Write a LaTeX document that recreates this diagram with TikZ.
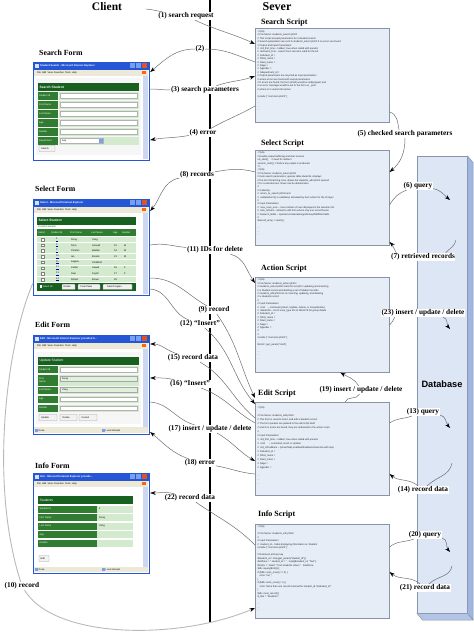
\documentclass[tikz,border=0pt]{standalone}
\usepackage{fontspec}
\setmainfont{Liberation Serif}
\setsansfont{Liberation Sans}
\usetikzlibrary{arrows.meta}

\definecolor{winblue}{RGB}{36,86,214}
\definecolor{btnblue}{RGB}{120,160,240}
\definecolor{closered}{RGB}{222,84,40}
\definecolor{xpbeige}{RGB}{236,233,216}
\definecolor{scrollblue}{RGB}{205,216,240}
\definecolor{darkgreen}{RGB}{24,96,32}
\definecolor{midgreen}{RGB}{48,124,48}
\definecolor{palegreen}{RGB}{212,234,206}
\definecolor{scriptfill}{RGB}{231,237,247}
\definecolor{scriptline}{RGB}{138,148,168}
\definecolor{dbfront}{RGB}{221,230,245}
\definecolor{dbside}{RGB}{160,182,225}
\definecolor{linegray}{RGB}{110,110,110}

\begin{document}
\begin{tikzpicture}[x=1pt,y=-1pt,
  >={Stealth[length=5.5pt,width=3.8pt,color=black]},
  conn/.style={draw=linegray,line width=0.5pt},
  conn10/.style={draw=gray!55,line width=0.9pt},
  lab/.style={fill=white,inner sep=0.6pt,font=\bfseries\fontsize{7.3}{8}\selectfont},
  stitle/.style={anchor=west,inner sep=0pt,font=\bfseries\fontsize{8}{9}\selectfont},
  script/.style={draw=scriptline,fill=scriptfill,line width=0.6pt,anchor=north west,minimum width=134,inner sep=0pt},
  code/.style={anchor=north west,inner sep=0pt,align=left,text=black!85,font=\sffamily\fontsize{2.45}{3.4}\selectfont},
  win/.style={draw=winblue,fill=white,line width=1.2pt,anchor=north west,minimum width=116,inner sep=0pt},
  wtitle/.style={anchor=west,inner sep=0pt,text=white,font=\sffamily\bfseries\fontsize{2.6}{3}\selectfont},
  wtext/.style={anchor=west,inner sep=0pt,font=\sffamily\fontsize{2.4}{2.8}\selectfont},
  gtext/.style={wtext,text=white},
  btn/.style={draw=gray!70,fill=gray!10,line width=0.3pt,rounded corners=0.6pt}
]
\useasboundingbox (0,0) rectangle (474,632);
\clip (0,0) rectangle (474,632);

% client / server
\node[anchor=base,font=\bfseries\fontsize{11.5}{12}\selectfont] (client) at (107,10.5) {Client};
\node[anchor=base,font=\bfseries\fontsize{12}{13}\selectfont] (sever) at (277,10.5) {Sever};
\draw[line width=1.3pt] (210,0) -- (210,622);

% forms
\node[anchor=west,inner sep=0pt,font=\bfseries\fontsize{7.8}{8}\selectfont] at (39,53) {Search Form};
\node[anchor=west,inner sep=0pt,font=\bfseries\fontsize{7.8}{8}\selectfont] at (35,189) {Select Form};
\node[anchor=west,inner sep=0pt,font=\bfseries\fontsize{7.8}{8}\selectfont] at (35,325) {Edit Form};
\node[anchor=west,inner sep=0pt,font=\bfseries\fontsize{7.8}{8}\selectfont] at (35,466) {Info Form};

\node[win,minimum height=98] (sf) at (33,62) {};
\node[win,minimum height=96] (slf) at (33,199) {};
\node[win,minimum height=99] (ef) at (33,335) {};
\node[win,minimum height=100] (iff) at (33,473) {};

\foreach \tp/\bt/\ti in {62/160/Student Search - Microsoft Internet Explorer,199/295/Select - Microsoft Internet Explorer,335/434/Edit - Microsoft Internet Explorer provided b\dots,473/573/Info - Microsoft Internet Explorer provide\dots}{
  \fill[winblue] (33,\tp) rectangle (149,\tp+7.5);
  \fill[white!70!btnblue] (35,\tp+2) rectangle (38.5,\tp+5.5);
  \node[wtitle] at (40,\tp+3.8) {\ti};
  \fill[btnblue] (129.5,\tp+1.3) rectangle (134.5,\tp+6.3);
  \fill[btnblue] (135.5,\tp+1.3) rectangle (140.5,\tp+6.3);
  \fill[closered] (141.5,\tp+1.3) rectangle (147.2,\tp+6.3);
  \fill[xpbeige] (33.6,\tp+7.5) rectangle (148.4,\tp+13.5);
  \node[wtext] at (37,\tp+10.5) {File\enspace Edit\enspace View\enspace Favorites\enspace Tools\enspace Help};
  \fill[orange!80!red] (141.5,\tp+8.6) rectangle (145.5,\tp+12.4);
  \fill[scrollblue] (142.5,\tp+13.5) rectangle (148.4,\bt-0.6);
}

% search form
\fill[gray!7] (35.5,78) rectangle (141,155);
\fill[darkgreen] (38,83) rectangle (139,91);
\node[gtext,font=\sffamily\bfseries\fontsize{3.3}{3.6}\selectfont] at (39.5,87) {Search Student};
\foreach \y/\lb in {92/Student Id,101/First Name,110/Last Name,119/Age,128/Gender,137/Department}{
  \fill[midgreen] (38,\y) rectangle (58,\y+7.5);
  \fill[palegreen] (58.5,\y) rectangle (139,\y+7.5);
  \node[gtext] at (39,\y+3.8) {\lb};
}
\foreach \y in {92,101,110,119,128}
  \draw[gray!60,fill=white,line width=0.3pt] (60,\y+1.2) rectangle (137.5,\y+6.3);
\draw[gray!60,fill=white,line width=0.3pt] (60,138.2) rectangle (103,143.3);
\node[wtext] at (62,140.8) {Any};
\fill[btnblue] (99,138.6) rectangle (102.6,142.9);
\draw[btn] (39,145.5) rectangle (55,151.5);
\node[wtext] at (41,148.5) {Search};

% select form
\fill[darkgreen] (37,217) rectangle (136,224.5);
\node[gtext,font=\sffamily\bfseries\fontsize{3.3}{3.6}\selectfont] at (38.5,220.8) {Select Student};
\node[wtext,text=darkgreen] at (38,227) {Found 8 Student};
\fill[midgreen] (37,229) rectangle (136,236);
\foreach \x/\hd in {38/Select,51/Student Id,70/First Name,91/Last Name,113/Age,122/Gender}
  \node[gtext] at (\x,232.5) {\hd};
\foreach \ry/\rid/\rf/\rl/\ra/\rg in {237/1/Dong/Yang/{}/{},242.7/2/Dora/Sunnall/22/M,248.4/3/Charles/Beattie/34/M,254.1/10/Ian/Brooks/21/M,259.8/11/Angela/Chatfield/{}/{},265.5/12/Caitlin/Sewell/25/F,271.2/13/Sian/Cupitt/27/F,276.9/14/Robert/Brown/35/{}}{
  \fill[palegreen] (37,\ry) rectangle (136,\ry+5);
  \draw[gray,fill=white,line width=0.25pt] (41.5,\ry+1.2) rectangle (44,\ry+3.8);
  \node[wtext,text=blue!60!black] at (56,\ry+2.5) {\underline{\rid}};
  \node[wtext] at (71,\ry+2.5) {\rf};
  \node[wtext] at (92,\ry+2.5) {\rl};
  \node[wtext] at (114,\ry+2.5) {\ra};
  \node[wtext] at (124,\ry+2.5) {\rg};
}
\fill[darkgreen] (37,283) rectangle (136,290.5);
\fill[white] (39.5,285.3) rectangle (41.8,287.8);
\node[gtext] at (42.5,286.8) {Select all};
\draw[btn] (62,284.2) rectangle (75,289.4);
\node[wtext] at (63.5,286.8) {Delete};
\draw[btn] (78,284.2) rectangle (100,289.4);
\node[wtext] at (80.5,286.8) {Insert New};
\draw[btn] (103,284.2) rectangle (132,289.4);
\node[wtext] at (107,286.8) {Search Again};

% edit form
\fill[gray!7] (35.5,352) rectangle (141,424);
\fill[darkgreen] (38,357) rectangle (139,364.5);
\node[gtext,font=\sffamily\fontsize{3.4}{3.6}\selectfont] at (39.5,360.8) {Update Student};
\foreach \y/\h in {366/7,374.5/11,386.5/7,395.5/7,404.5/7}{
  \fill[midgreen] (38,\y) rectangle (58,\y+\h);
  \fill[palegreen] (58.5,\y) rectangle (139,\y+\h);
}
\node[gtext] at (39,369.5) {Student Id};
\node[gtext,align=left] at (39,380) {First\\Name};
\node[gtext] at (39,390) {Last Name};
\node[gtext] at (39,399) {Age};
\node[gtext] at (39,408) {Gender};
\foreach \y in {367.2,396.7,405.7}
  \draw[gray!60,fill=white,line width=0.3pt] (60,\y) rectangle (137.5,\y+4.8);
\draw[gray!70,fill=palegreen!70!white,line width=0.3pt] (60,376) rectangle (137.5,381.5);
\node[wtext] at (62,378.8) {Dong};
\draw[gray!70,fill=palegreen!70!white,line width=0.3pt] (60,387.5) rectangle (137.5,392.5);
\node[wtext] at (62,390) {Yang};
\draw[btn] (39,414.5) rectangle (57,420.5);
\node[wtext] at (41,417.5) {Update};
\draw[btn] (60,414.5) rectangle (77,420.5);
\node[wtext] at (62.5,417.5) {Delete};
\draw[btn] (79,414.5) rectangle (97,420.5);
\node[wtext] at (81.5,417.5) {Cancel};
\fill[xpbeige] (33.6,427) rectangle (148.4,433.4);
\fill[btnblue] (35,428.5) rectangle (37.5,431.5);
\node[wtext] at (38.5,430.2) {Done};
\fill[btnblue] (102,428.5) rectangle (104.5,431.5);
\node[wtext] at (105.5,430.2) {Local intranet};

% info form
\fill[darkgreen] (38,496) rectangle (133,503.5);
\node[gtext,font=\sffamily\fontsize{3.4}{3.6}\selectfont] at (39.5,499.8) {Students};
\foreach \y/\lb/\v in {505.5/Student Id/1,514/First Name/Dong,522.5/Last Name/Yang,531/Age/{},539.5/Gender/{}}{
  \fill[midgreen] (38,\y) rectangle (96.5,\y+7);
  \fill[palegreen] (97,\y) rectangle (133,\y+7);
  \node[gtext] at (39.5,\y+3.5) {\lb};
  \node[wtext] at (99,\y+3.5) {\v};
}
\draw[btn] (39,555.5) rectangle (49,561.5);
\node[wtext] at (40.5,558.5) {Edit};
\fill[xpbeige] (33.6,566.5) rectangle (148.4,572.4);
\fill[btnblue] (35,568) rectangle (37.5,571);
\node[wtext] at (38.5,569.5) {Done};
\fill[btnblue] (102,568) rectangle (104.5,571);
\node[wtext] at (105.5,569.5) {Local intranet};

% scripts
\node[stitle] at (261,22.5) {Search Script};
\node[stitle] at (261,144) {Select Script};
\node[stitle] at (261,269) {Action Script};
\node[stitle] at (258,394) {Edit Script};
\node[stitle] at (258,515) {Info Script};

\node[script,minimum height=94] (ss) at (255,28) {};
\node[script,minimum height=95] (sel) at (255,150) {};
\node[script,minimum height=95] (act) at (255,277) {};
\node[script,minimum height=93] (eds) at (255,402) {};
\node[script,minimum height=94] (inf) at (255,524) {};

\node[code] at (257.5,30.5) {<?php\\
// File Name: students\_search.phtml\\
// This script accepts parameters for a Student search\\
// Search parameters are sent to students\_select.phtml if no errors are found\\
// Output and Input Parameters:\\
//\ \ std\_first\_time -- hidden; true when called with params\\
//\ \ lastname\_first -- search form record is valid for the list\\
//\ \ \$student\_id =\\
//\ \ \$first\_name =\\
//\ \ \$last\_name =\\
//\ \ \$age =\\
//\ \ \$gender =\\
//\ \ \$department\_id =\\
// Output parameters are recycled as input parameters\\
// where errors are found with output parameters\\
// If errors are found, the form (itself) would be redisplayed, and\\
// an error message would be set to the form as \_print\\
// where in in search-lib.names\\
\mbox{}\\
include ("./common.phtml");\\
\mbox{}\\
...\\
...\\
...};

\node[code] at (257.5,152) {<?php\\
// Enable output buffering and start session\\
ob\_start();\ \ \ \ // need for redirect\\
session\_start(); // before any output is produced\\
?>\\
<?php\\
// File Name: students\_select.phtml\\
// Gets search parameters, queries table students, displays\\
// the list of matching rows, allows the students\_edit.phtml opened\\
// for a selected row. Rows can be deleted also.\\
//\\
// Called by:\\
//\ \ return\_to\_search.phtml and\\
//\ \ validateForm() in validate.js activated by form action for the ID layer\\
//\\
// Input Parameters:\\
//\ \ max\_rows\_ever -- max number of rows displayed in the selection list\\
//\ \ sids\_refined -- refined to edit from where only one record found\\
//\ \ \$search\_fields -- sparse/concatenated get/lookup/flat/filter fields\\
//\\
\$record\_array = select();\\
\mbox{}\\
...\\
...\\
...};

\node[code] at (257.5,279) {<?php\\
// File Name: students\_action.phtml\\
// students\_select.phtml calls this script for updating and inserting\\
// a Student record and deleting a set of Student records\\
// students\_edit.phtml do on inserting, updating, and deleting\\
// a students record\\
//\\
// Input Parameters:\\
//\ \ cmd\ \ \ \ -- command (Insert, Update, Delete, or GroupDelete)\\
//\ \ deleteIDs -- list of ones\_type IDs to DELETE for group delete\\
//\ \ \$student\_id =\\
//\ \ \$first\_name =\\
//\ \ \$last\_name =\\
//\ \ \$age =\\
//\ \ \$gender =\\
//\\
//\\
include ("./common.phtml");\\
\mbox{}\\
\$cmd = get\_param("cmd");\\
\mbox{}\\
...\\
...\\
...};

\node[code,font=\sffamily\fontsize{2.45}{4}\selectfont] at (257.5,404) {\mbox{}\\
<?php\\
\mbox{}\\
// File Name: students\_edit.phtml\\
// This form is used to insert, and edit a Student record.\\
// The form params are passed to the edit script itself\\
// and if no errors are found, they are redirected to the action script\\
//\\
// Input Parameters:\\
//\ \ std\_first\_time -- hidden; true when called with params\\
//\ \ cmd\ \ \ \ \ \ -- command, Insert or Update\\
//\ \ std\_isPostBack -- (show/hide) enabled/disabled interaction with step\\
//\ \ \$student\_id =\\
//\ \ \$first\_name =\\
//\ \ \$last\_name =\\
//\ \ \$age =\\
//\ \ \$gender =\\
\mbox{}\\
...\\
...\\
...};

\node[code,font=\sffamily\fontsize{2.45}{3.5}\selectfont] at (257.5,526) {<?php\\
\mbox{}\\
// File Name: students\_info.phtml\\
//\\
// Input Parameters:\\
//\ \ student\_id -- hides displaying information on Student\\
include ("./common.phtml");\\
\mbox{}\\
// Retrieves primary key\\
\$student\_id = strip(get\_param("student\_id"));\\
\$sWhere = " student\_id = " . tosql(\$student\_id, "Text");\\
\$sSQL = "select * from students where " . \$sWhere;\\
\$db->query(\$sSQL);\\
if (\$db->num\_rows() == 0) \{\\
\ \ \ echo "not ";\\
\}\\
if (\$db->num\_rows() > 1) \{\\
\ \ \ echo "More than one record returned for student\_id =\$student\_id";\\
\}\\
\$db->next\_record();\\
\$\_title = "Students";\\
\mbox{}\\
...\\
...\\
...};

% database
\node[fill=dbfront,draw=scriptline,line width=0.5pt,anchor=north west,minimum width=50,minimum height=457,inner sep=0pt] (db) at (417,156) {};
\filldraw[fill=dbside,draw=scriptline,line width=0.5pt] (db.north east) -- ++(5.5,6.5) -- ++(0,457) -- (db.south east) -- cycle;
\filldraw[fill=dbside!80!white,draw=scriptline,line width=0.5pt] (db.south west) -- (db.south east) -- ++(5.5,6.5) -- ([shift={(5.5,6.5)}]db.south west) -- cycle;
\node[font=\sffamily\bfseries\fontsize{9.2}{10}\selectfont] (dbl) at (442,384) {Database};
\coordinate (q6) at (450,200);
\coordinate (r7) at (456,240);
\coordinate (q23) at (450,329);
\coordinate (q13) at (450,428);
\coordinate (r14) at (452,463);
\coordinate (q20) at (450,552);
\coordinate (r21) at (452,566);
\coordinate (c1) at (146,9);

% labels
\node[lab] (l1) at (186,16) {(1) search request};
\node[lab] (l2) at (200,49) {(2)};
\node[lab] (l3) at (205,90) {(3) search parameters};
\node[lab] (l4) at (203,133) {(4) error};
\node[lab] (l5) at (405,134) {(5) checked search parameters};
\node[lab] (l6) at (418,186) {(6) query};
\node[lab] (l7) at (423,257) {(7) retrieved records};
\node[lab] (l8) at (197,175) {(8) records};
\node[lab] (l11) at (215,250) {(11) IDs for delete};
\node[lab] (l9) at (214,310) {(9) record};
\node[lab] (l12) at (200,324) {(12) “Insert”};
\node[lab] (l15) at (193,358) {(15) record data};
\node[lab] (l16) at (190,384) {(16) “Insert”};
\node[lab] (l17) at (210,429) {(17) insert / update / delete};
\node[lab] (l18) at (200,463) {(18) error};
\node[lab] (l19) at (361,390) {(19) insert / update / delete};
\node[lab] (l23) at (423,313) {(23) insert / update / delete};
\node[lab] (l13) at (423,412) {(13) query};
\node[lab] (l14) at (423,490) {(14) record data};
\node[lab] (l20) at (425,535) {(20) query};
\node[lab] (l21) at (425,588) {(21) record data};
\node[lab] (l22) at (190,498) {(22) record data};
\node[lab] (l10) at (22,586) {(10) record};

% connectors
\draw[conn] (c1) to[out=-5,in=170] (l1);
\draw[conn,->] (l1) to[out=-25,in=155] (ss.west |- 0,44);
\draw[conn] (ss.west |- 0,62) to[out=160,in=0] (l2);
\draw[conn,->] (l2) to[out=180,in=40] (sf.east |- 0,72);
\draw[conn] (sf.east |- 0,89) to[out=0,in=180] (l3);
\draw[conn,->] (l3) to[out=20,in=200] (ss.west |- 0,76);
\draw[conn] (ss.west |- 0,106) to[out=210,in=30] (l4);
\draw[conn,->] (l4) to[out=190,in=10] (sf.east |- 0,140);
\draw[conn] (ss.east |- 0,112) to[out=-15,in=100] ([xshift=-6pt]l5.north);
\draw[conn,->] (l5.south) to[out=-90,in=40] (sel.east |- 0,172);
\draw[conn] (sel.east |- 0,205) to[out=60,in=200] (l6);
\draw[conn,->] (l6) to[out=-10,in=140] (q6);
\draw[conn] (r7) to[out=-100,in=50] ([xshift=-10pt]l7.north east);
\draw[conn,->] ([xshift=6pt]l7.north west) to[out=120,in=-45] (sel.east |- 0,242);
\draw[conn] (sel.west |- 0,172) to[out=165,in=10] (l8);
\draw[conn,->] (l8) to[out=190,in=50] (slf.east |- 0,211);
\draw[conn] (slf.east |- 0,245) to[out=10,in=175] (l11);
\draw[conn,->] (l11) to[out=-15,in=125] (act.west |- 0,283);
\draw[conn] (slf.east |- 0,278) to[out=0,in=150] (l9);
\draw[conn,->] (l9) to[out=-55,in=115] (eds.west |- 0,398);
\draw[conn] (slf.east |- 0,289) to[out=-5,in=160] (l12);
\draw[conn,->] (l12) to[out=-40,in=130] (eds.west |- 0,404);
\draw[conn] (eds.west |- 0,418) to[out=140,in=-30] (l15);
\draw[conn,->] (l15) to[out=165,in=0] (ef.east |- 0,344);
\draw[conn] (eds.west |- 0,423) to[out=150,in=-20] (l16);
\draw[conn,->] (l16) to[out=165,in=0] (ef.east |- 0,378);
\draw[conn] (ef.east |- 0,402) to[out=-5,in=165] (l17);
\draw[conn,->] (l17) to[out=-30,in=150] (eds.west |- 0,461);
\draw[conn] (eds.west |- 0,474) to[out=175,in=-10] (l18);
\draw[conn,->] (l18) to[out=160,in=-40] (ef.east |- 0,432);
\draw[conn] ([xshift=23pt]eds.north) to[out=80,in=-110] (l19);
\draw[conn,->] (l19) to[out=120,in=-30] ([xshift=18pt]act.south);
\draw[conn] (act.east |- 0,325) to[out=40,in=-120] ([xshift=14pt]l23.south west);
\draw[conn,->] ([xshift=-22pt]l23.south east) to[out=-20,in=130] (q23);
\draw[conn] (eds.east |- 0,423) to[out=35,in=200] (l13);
\draw[conn,->] (l13) to[out=-10,in=130] (q13);
\draw[conn] (r14) to[out=-100,in=45] (l14);
\draw[conn,->] (l14) to[out=140,in=-40] (eds.east |- 0,474);
\draw[conn] (inf.east |- 0,547) to[out=40,in=200] (l20);
\draw[conn,->] (l20) to[out=-10,in=130] (q20);
\draw[conn] (r21) to[out=-100,in=45] (l21);
\draw[conn,->] (l21) to[out=140,in=-40] (inf.east |- 0,572);
\draw[conn] (inf.west |- 0,545) to[out=135,in=-35] (l22);
\draw[conn,->] (l22) to[out=165,in=0] (iff.east |- 0,493);
\draw[conn10] (slf.west |- 0,283) .. controls (8,340) and (-12,480) .. (l10);
\draw[conn10,->] (l10) .. controls (55,640) and (180,640) .. (inf.west |- 0,608);
\end{tikzpicture}
\end{document}
